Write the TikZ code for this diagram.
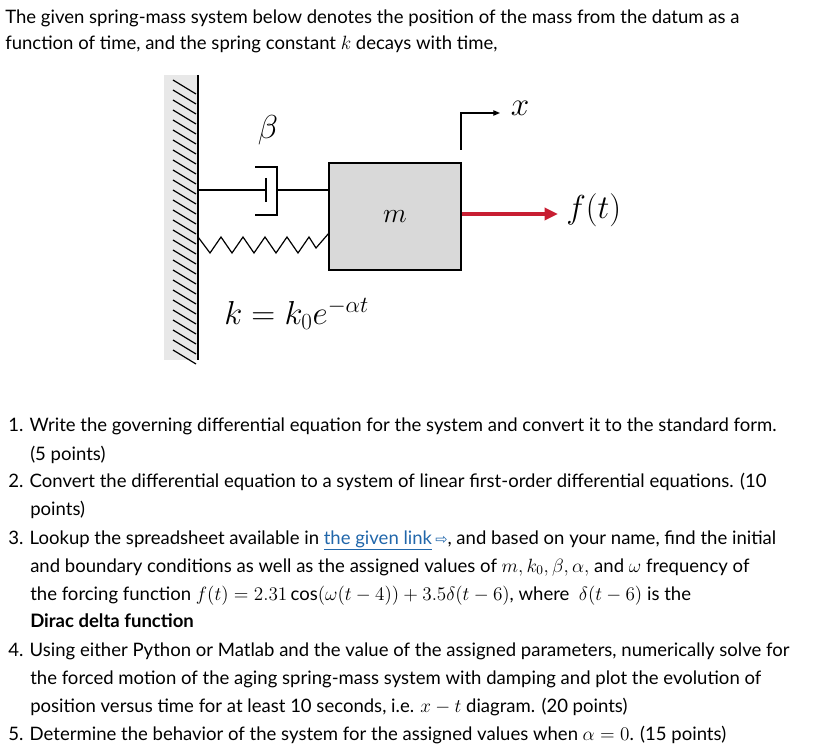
\documentclass[tikz,border=0pt]{standalone}
\usepackage{fontspec}
\setmainfont{Lato}
\usetikzlibrary{arrows.meta}
\definecolor{linkblue}{RGB}{32,102,170}
\definecolor{fred}{RGB}{200,30,50}
\begin{document}
\begin{tikzpicture}[x=0.75pt,y=-0.75pt,
  txt/.style={anchor=base west,inner sep=0,font=\fontsize{13.9}{15}\selectfont},
  lbl/.style={inner sep=0,font=\fontsize{25}{25}\selectfont}]
\useasboundingbox (0,0) rectangle (819,756);
% text
\node[txt] (l1) at (5,24) {The given spring-mass system below denotes the position of the mass from the datum as a};
\node[txt] (l2) at (5,50) {function of time, and the spring constant $k$ decays with time,};
% wall
\fill[gray!18] (164,75) rectangle (199,360);
\draw[line width=1.1pt] (198,75) -- (198,360);
\foreach \y in {80,90,...,350} \draw[line width=0.9pt] (173,\y) -- (196,\y+14);
% mass
\node[draw,line width=1pt,fill=gray!30,minimum width=132*0.75pt,minimum height=107*0.75pt,inner sep=0] (m) at (395,216.5) {\fontsize{20}{20}\selectfont$m$};
% damper
\coordinate (w1) at (198,190);
\coordinate (p1) at (266,190);
\draw[line width=0.9pt] (w1) -- (p1);
\draw[line width=0.9pt] (266,178) -- (266,202);
\draw[line width=0.9pt] (255,167) -- (277,167) -- (277,215) -- (255,215);
\draw[line width=0.9pt] (277,190) -- (m.west |- 0,190);
% spring
\draw[line width=0.9pt] (198,237) -- (210,253) -- (221,237) -- (232,253) -- (243,237) -- (254,253) -- (265,237) -- (276,253) -- (287,237) -- (298,253) -- (309,237) -- (316,248) -- (329,233);
% force
\coordinate (fe) at (558,214);
\draw[fred,line width=3pt,-{Triangle[length=10pt,width=9pt]}] (m.east |- 0,214) -- (fe);
\node[lbl,anchor=west] (ft) at (566,210) {$f(t)$};
% x
\coordinate (xa) at (461,150);
\coordinate (xb) at (500,113);
\draw[line width=0.9pt,-{Triangle[length=5pt,width=4pt]}] (xa) -- (461,113) -- (xb);
\node[lbl] (xl) at (520,108) {$x$};
\node[lbl] (beta) at (268,130) {$\beta$};
\node[lbl,anchor=west] (kf) at (224,314) {$k = k_0e^{-\alpha t}$};
% list
\node[txt] (n1) at (8,432) {1. Write the governing differential equation for the system and convert it to the standard form.};
\node[txt] (n1b) at (30,460) {(5 points)};
\node[txt] (n2) at (8,488) {2. Convert the differential equation to a system of linear first-order differential equations. (10};
\node[txt] (n2b) at (30,516) {points)};
\node[txt] (n3) at (8,544) {3. Lookup the spreadsheet available in \textcolor{linkblue}{\underline{the given link}}\,\textcolor{linkblue}{\fontspec{DejaVu Sans}\fontsize{11}{11}\selectfont⇨}, and based on your name, find the initial};
\node[txt] (n3b) at (30,572) {and boundary conditions as well as the assigned values of $m, k_0, \beta, \alpha,$ and $\omega$ frequency of};
\node[txt] (n3c) at (30,600) {the forcing function $f(t) = 2.31\cos(\omega(t-4)) + 3.5\delta(t-6)$, where \ $\delta(t-6)$ is the};
\node[txt] (n3d) at (30,628) {\textbf{Dirac delta function}};
\node[txt] (n4) at (8,656) {4. Using either Python or Matlab and the value of the assigned parameters, numerically solve for};
\node[txt] (n4b) at (30,684) {the forced motion of the aging spring-mass system with damping and plot the evolution of};
\node[txt] (n4c) at (30,712) {position versus time for at least 10 seconds, i.e. $x-t$ diagram. (20 points)};
\node[txt] (n5) at (8,740) {5. Determine the behavior of the system for the assigned values when $\alpha = 0$. (15 points)};
\end{tikzpicture}
\end{document}
